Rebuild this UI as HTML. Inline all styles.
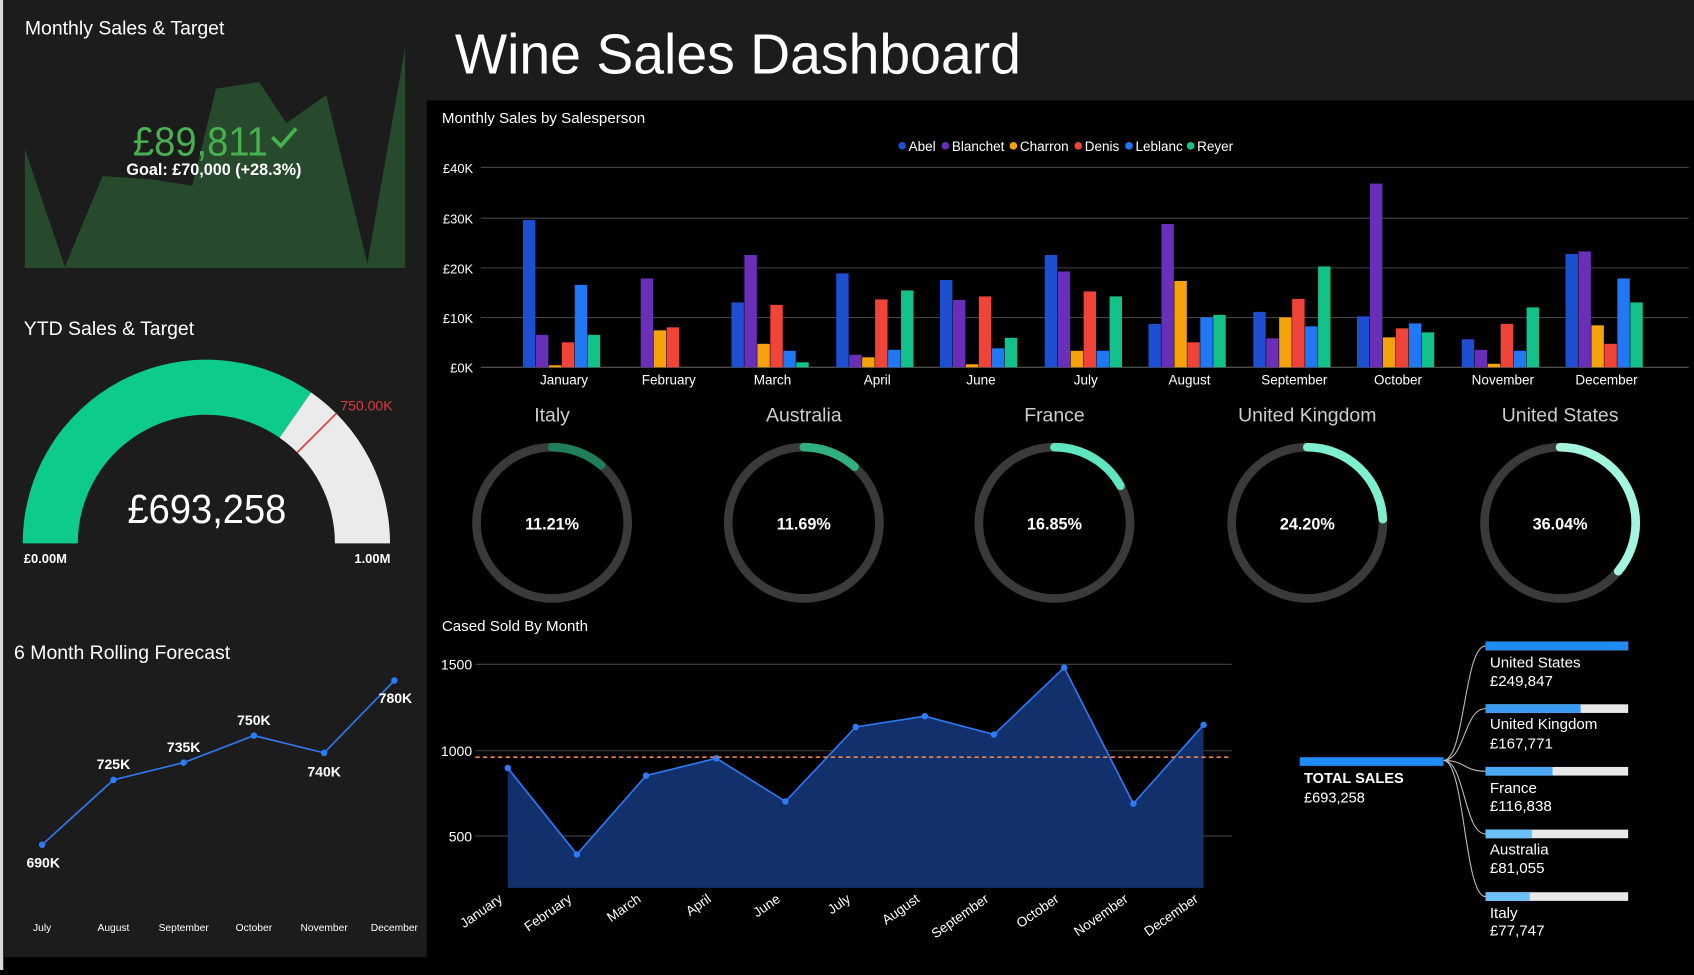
<!DOCTYPE html>
<html><head><meta charset="utf-8"><style>
html,body{margin:0;padding:0;background:#000;width:1694px;height:970px;overflow:hidden}
#w{position:absolute;left:0;top:0;width:1568px;height:898px;transform:scale(1.0804,1.0802);transform-origin:0 0;font-family:"Liberation Sans",sans-serif}
</style></head><body><div id="w">
<svg width="1568" height="898" viewBox="0 0 1568 898" xmlns="http://www.w3.org/2000/svg" font-family="Liberation Sans, sans-serif">
<rect width="1568" height="898" fill="#000"/>
<rect x="0" y="0" width="3" height="898" fill="#d8d8d8"/>
<rect x="4" y="0" width="391" height="886" fill="#1c1c1c"/>
<rect x="395" y="0" width="1173" height="93" fill="#1c1c1c"/>
<text x="421" y="68" font-size="52" fill="#fff" textLength="524" lengthAdjust="spacingAndGlyphs">Wine Sales Dashboard</text>

<!-- Monthly sales & target -->
<text x="23" y="32" font-size="18" fill="#fff">Monthly Sales &amp; Target</text>
<polygon fill="#264a2b" points="23,138 60,247 95,163 140,166 178,172 200,82 240,76 265,114 302,88 340,244 375,44 375,248 23,248"/>
<text x="123" y="144" font-size="38" fill="#47b04f" textLength="125" lengthAdjust="spacingAndGlyphs">£89,811</text>
<path d="M252,127 l8,8 l14,-16" stroke="#47b04f" stroke-width="3.5" fill="none"/>
<text x="198" y="162" font-size="15" fill="#fff" font-weight="bold" text-anchor="middle">Goal: £70,000 (+28.3%)</text>

<!-- YTD gauge -->
<text x="22" y="310" font-size="18" fill="#fff">YTD Sales &amp; Target</text>
<path d="M21,503 A170,170 0 0 1 287.9,363.3 L258.8,405.2 A119,119 0 0 0 72,503 Z" fill="#0ccb8c"/>
<path d="M287.9,363.3 A170,170 0 0 1 361,503 L310,503 A119,119 0 0 0 258.8,405.2 Z" fill="#ebebeb"/>
<line x1="275.1" y1="418.9" x2="311.2" y2="382.8" stroke="#e0393e" stroke-width="1.5"/>
<text x="315" y="380" font-size="13" fill="#e0393e">750.00K</text>
<text x="118" y="484" font-size="38" fill="#fff" textLength="147" lengthAdjust="spacingAndGlyphs">£693,258</text>
<text x="22" y="521" font-size="12" fill="#fff" font-weight="bold">£0.00M</text>
<text x="328" y="521" font-size="12" fill="#fff" font-weight="bold">1.00M</text>

<!-- Forecast -->
<text x="13" y="610" font-size="18" fill="#fff">6 Month Rolling Forecast</text>
<polyline points="39,782 105,722 170,706 235,681 300,697 365,630" fill="none" stroke="#2f7bf5" stroke-width="1.5"/>
<g fill="#2f7bf5"><circle cx="39" cy="782" r="3"/><circle cx="105" cy="722" r="3"/><circle cx="170" cy="706" r="3"/><circle cx="235" cy="681" r="3"/><circle cx="300" cy="697" r="3"/><circle cx="365" cy="630" r="3"/></g>
<g font-size="13" fill="#fff" font-weight="bold" text-anchor="middle">
<text x="40" y="803">690K</text><text x="105" y="712">725K</text><text x="170" y="696">735K</text><text x="235" y="671">750K</text><text x="300" y="719">740K</text><text x="366" y="651">780K</text></g>
<g font-size="9.5" fill="#fff" text-anchor="middle">
<text x="39" y="862">July</text><text x="105" y="862">August</text><text x="170" y="862">September</text><text x="235" y="862">October</text><text x="300" y="862">November</text><text x="365" y="862">December</text></g>

<!-- Bar chart -->
<text x="409" y="114" font-size="14" fill="#fff">Monthly Sales by Salesperson</text>
<g font-size="12.5" fill="#fff">
<circle cx="835" cy="135" r="3.5" fill="#1f4fd1"/><text x="841" y="140">Abel</text>
<circle cx="875" cy="135" r="3.5" fill="#6a2fb8"/><text x="881" y="140">Blanchet</text>
<circle cx="938" cy="135" r="3.5" fill="#f5a30a"/><text x="944" y="140">Charron</text>
<circle cx="998" cy="135" r="3.5" fill="#f04438"/><text x="1004" y="140">Denis</text>
<circle cx="1045" cy="135" r="3.5" fill="#2178f5"/><text x="1051" y="140">Leblanc</text>
<circle cx="1102" cy="135" r="3.5" fill="#12c28a"/><text x="1108" y="140">Reyer</text></g>
<g stroke="#444" stroke-width="1"><line x1="445" y1="155" x2="1563" y2="155"/><line x1="445" y1="202" x2="1563" y2="202"/><line x1="445" y1="248" x2="1563" y2="248"/><line x1="445" y1="294" x2="1563" y2="294"/><line x1="445" y1="340" x2="1563" y2="340" stroke="#666"/></g>
<g font-size="12" fill="#fff" text-anchor="end"><text x="438" y="160">£40K</text><text x="438" y="207">£30K</text><text x="438" y="253">£20K</text><text x="438" y="299">£10K</text><text x="438" y="345">£0K</text></g>
<g id="bars"></g>
<g font-size="12.5" fill="#fff" text-anchor="middle">
<text x="522" y="356">January</text><text x="619" y="356">February</text><text x="715" y="356">March</text><text x="812" y="356">April</text><text x="908" y="356">June</text><text x="1005" y="356">July</text><text x="1101" y="356">August</text><text x="1198" y="356">September</text><text x="1294" y="356">October</text><text x="1391" y="356">November</text><text x="1487" y="356">December</text></g>

<!-- Donuts -->
<g font-size="18" fill="#ccc" text-anchor="middle">
<text x="511" y="390">Italy</text><text x="744" y="390">Australia</text><text x="976" y="390">France</text><text x="1210" y="390">United Kingdom</text><text x="1444" y="390">United States</text></g>
<g fill="none" stroke="#3a3a3a" stroke-width="8">
<circle cx="511" cy="484" r="70"/><circle cx="744" cy="484" r="70"/><circle cx="976" cy="484" r="70"/><circle cx="1210" cy="484" r="70"/><circle cx="1444" cy="484" r="70"/></g>
<g fill="none" stroke-width="8" stroke-linecap="round">
<circle cx="511" cy="484" r="70" stroke="#1f7e5c" stroke-dasharray="49.3 500" transform="rotate(-90 511 484)"/>
<circle cx="744" cy="484" r="70" stroke="#2faf82" stroke-dasharray="51.4 500" transform="rotate(-90 744 484)"/>
<circle cx="976" cy="484" r="70" stroke="#5de6bf" stroke-dasharray="74.1 500" transform="rotate(-90 976 484)"/>
<circle cx="1210" cy="484" r="70" stroke="#7ff0cf" stroke-dasharray="106.4 500" transform="rotate(-90 1210 484)"/>
<circle cx="1444" cy="484" r="70" stroke="#a3f5df" stroke-dasharray="158.5 500" transform="rotate(-90 1444 484)"/></g>
<g font-size="15" fill="#fff" font-weight="bold" text-anchor="middle">
<text x="511" y="490">11.21%</text><text x="744" y="490">11.69%</text><text x="976" y="490">16.85%</text><text x="1210" y="490">24.20%</text><text x="1444" y="490">36.04%</text></g>

<!-- Cases line -->
<text x="409" y="584" font-size="14" fill="#fff">Cased Sold By Month</text>
<g stroke="#444"><line x1="440" y1="615" x2="1140" y2="615"/><line x1="440" y1="695" x2="1140" y2="695"/><line x1="440" y1="774" x2="1140" y2="774"/></g>
<g font-size="13" fill="#fff" text-anchor="end"><text x="437" y="620">1500</text><text x="437" y="700">1000</text><text x="437" y="779">500</text></g>
<polygon fill="#12306b" points="470,711 534,791 598,718 663,702 727,742 792,673 856,663 920,680 985,618 1049,744 1114,671 1114,822 470,822"/>
<polyline fill="none" stroke="#2f7bf5" stroke-width="1.5" points="470,711 534,791 598,718 663,702 727,742 792,673 856,663 920,680 985,618 1049,744 1114,671"/>
<g fill="#2f7bf5"><circle cx="470" cy="711" r="3"/><circle cx="534" cy="791" r="3"/><circle cx="598" cy="718" r="3"/><circle cx="663" cy="702" r="3"/><circle cx="727" cy="742" r="3"/><circle cx="792" cy="673" r="3"/><circle cx="856" cy="663" r="3"/><circle cx="920" cy="680" r="3"/><circle cx="985" cy="618" r="3"/><circle cx="1049" cy="744" r="3"/><circle cx="1114" cy="671" r="3"/></g>
<line x1="440" y1="701" x2="1140" y2="701" stroke="#e8834f" stroke-width="1.5" stroke-dasharray="4 3"/>
<g font-size="12.5" fill="#fff" text-anchor="end">
<text transform="translate(466,834) rotate(-35)">January</text><text transform="translate(530,834) rotate(-35)">February</text><text transform="translate(594,834) rotate(-35)">March</text><text transform="translate(659,834) rotate(-35)">April</text><text transform="translate(723,834) rotate(-35)">June</text><text transform="translate(788,834) rotate(-35)">July</text><text transform="translate(852,834) rotate(-35)">August</text><text transform="translate(916,834) rotate(-35)">September</text><text transform="translate(981,834) rotate(-35)">October</text><text transform="translate(1045,834) rotate(-35)">November</text><text transform="translate(1110,834) rotate(-35)">December</text></g>

<!-- Decomposition tree -->
<g fill="none" stroke="#bbb" stroke-width="1">
<path d="M1336,704 C1356,704 1355,598 1375,598"/><path d="M1336,704 C1356,704 1355,656 1375,656"/><path d="M1336,704 C1356,704 1355,714 1375,714"/><path d="M1336,704 C1356,704 1355,772 1375,772"/><path d="M1336,704 C1356,704 1355,830 1375,830"/></g>
<rect x="1203" y="701" width="133" height="8" fill="#1f8bf5"/>
<text x="1207" y="725" font-size="13.5" fill="#fff" font-weight="bold">TOTAL SALES</text>
<text x="1207" y="743" font-size="13.5" fill="#fff">£693,258</text>
<g><rect x="1375" y="594" width="132" height="8" fill="#e8e8e8"/><rect x="1375" y="594" width="132" height="8" fill="#1f8bf5"/>
<rect x="1375" y="652" width="132" height="8" fill="#e8e8e8"/><rect x="1375" y="652" width="88" height="8" fill="#3a9af0"/>
<rect x="1375" y="710" width="132" height="8" fill="#e8e8e8"/><rect x="1375" y="710" width="62" height="8" fill="#4aa8f5"/>
<rect x="1375" y="768" width="132" height="8" fill="#e8e8e8"/><rect x="1375" y="768" width="43" height="8" fill="#6cc0f8"/>
<rect x="1375" y="826" width="132" height="8" fill="#e8e8e8"/><rect x="1375" y="826" width="41" height="8" fill="#6cc0f8"/></g>
<g font-size="14" fill="#fff">
<text x="1379" y="618">United States</text><text x="1379" y="635">£249,847</text>
<text x="1379" y="675">United Kingdom</text><text x="1379" y="693">£167,771</text>
<text x="1379" y="734">France</text><text x="1379" y="751">£116,838</text>
<text x="1379" y="791">Australia</text><text x="1379" y="808">£81,055</text>
<text x="1379" y="850">Italy</text><text x="1379" y="866">£77,747</text></g>
</svg></div>
<script>
var d=[[29.5,6.5,0.4,5,16.5,6.5],[0,17.8,7.4,8,0,0],[13,22.5,4.7,12.5,3.3,1],[18.8,2.5,2,13.6,3.5,15.4],[17.5,13.5,0.6,14.2,3.8,5.9],[22.5,19.2,3.3,15.2,3.3,14.2],[8.7,28.7,17.3,5,10,10.5],[11.1,5.8,10,13.7,8.2,20.2],[10.2,36.8,6,7.8,8.8,7],[5.6,3.5,0.7,8.7,3.3,12],[22.7,23.2,8.4,4.7,17.8,13]];
var cx=[522,619,715,812,908,1005,1101,1198,1294,1391,1487];
var col=["#1f4fd1","#6a2fb8","#f5a30a","#f04438","#2178f5","#12c28a"];
var g=document.getElementById("bars"),s="";
for(var i=0;i<11;i++)for(var j=0;j<6;j++){var h=d[i][j]*4.62;if(h<=0)continue;s+='<rect x="'+(cx[i]-38+j*12)+'" y="'+(340-h)+'" width="11.5" height="'+h+'" fill="'+col[j]+'"/>';}
g.innerHTML=s;
</script>
</body></html>
